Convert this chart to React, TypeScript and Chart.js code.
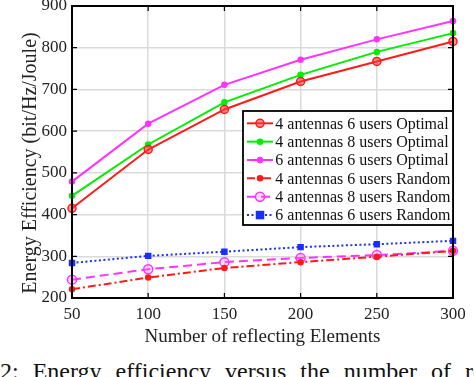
import React, { useEffect, useRef } from "react";
import { Chart, registerables } from "chart.js";

Chart.register(...registerables);

const elements = [50, 100, 150, 200, 250, 300];
const ant4u6Optimal = [415, 556, 652, 719, 767, 815];
const ant4u8Optimal = [445, 568, 669, 735, 790, 835];
const ant6u6Optimal = [479, 618, 711, 771, 820, 864];
const ant4u6Random = [221, 249, 272, 286, 299, 313];
const ant4u8Random = [244, 269, 286, 296, 303, 313];
const ant6u6Random = [284, 301, 311, 322, 329, 337];

const seriesLabels = [
  "4 antennas 6 users Optimal",
  "4 antennas 8 users Optimal",
  "6 antennas 6 users Optimal",
  "4 antennas 6 users Random",
  "4 antennas 8 users Random",
  "6 antennas 6 users Random",
];

const xMin = 50;
const xMax = 300;
const xStep = 50;
const yMin = 200;
const yMax = 900;
const yStep = 100;

const xTitle = "Number of reflecting Elements";
const yTitle = "Energy Efficiency (bit/Hz/Joule)";
const caption = "2:  Energy efficiency versus the number of reflecting elements";

const SERIF = "'Liberation Serif', 'Times New Roman', serif";

function drawMarker(ctx: CanvasRenderingContext2D, style: string, x: number, y: number, r: number, fill: string, stroke: string) {
  ctx.save();
  ctx.setLineDash([]);
  ctx.lineWidth = 1.5;
  ctx.fillStyle = fill;
  ctx.strokeStyle = stroke;
  if (style === "rect") {
    ctx.fillRect(x - r, y - r, 2 * r, 2 * r);
    ctx.strokeRect(x - r, y - r, 2 * r, 2 * r);
  } else {
    ctx.beginPath();
    ctx.arc(x, y, r, 0, Math.PI * 2);
    ctx.fill();
    ctx.stroke();
  }
  ctx.restore();
}

const framePlugin = {
  id: "frame",
  afterDatasetsDraw(chart: any) {
    const { ctx, chartArea } = chart;
    const { left, right, top, bottom } = chartArea;
    ctx.save();
    ctx.strokeStyle = "#000";
    ctx.lineWidth = 1.2;
    const tl = 5;
    chart.scales.x.ticks.forEach((t: any) => {
      const px = chart.scales.x.getPixelForValue(t.value);
      ctx.beginPath();
      ctx.moveTo(px, bottom);
      ctx.lineTo(px, bottom - tl);
      ctx.moveTo(px, top);
      ctx.lineTo(px, top + tl);
      ctx.stroke();
    });
    chart.scales.y.ticks.forEach((t: any) => {
      const py = chart.scales.y.getPixelForValue(t.value);
      ctx.beginPath();
      ctx.moveTo(left, py);
      ctx.lineTo(left + tl, py);
      ctx.moveTo(right, py);
      ctx.lineTo(right - tl, py);
      ctx.stroke();
    });
    ctx.lineWidth = 2;
    ctx.strokeRect(left, top, right - left, bottom - top);
    ctx.restore();
  },
  afterDraw(chart: any) {
    const { ctx, chartArea } = chart;
    // legend
    const w = 210;
    const h = 114;
    const lx = chartArea.right - w;
    const ly = chartArea.top + 105;
    ctx.save();
    ctx.fillStyle = "#fff";
    ctx.fillRect(lx, ly, w, h);
    ctx.lineWidth = 1.8;
    ctx.strokeStyle = "#000";
    ctx.strokeRect(lx, ly, w, h);
    chart.data.datasets.forEach((ds: any, i: number) => {
      const y = ly + 12.3 + i * 18.35;
      ctx.save();
      ctx.setLineDash(ds.borderDash || []);
      ctx.strokeStyle = ds.borderColor;
      ctx.lineWidth = ds.borderWidth;
      ctx.beginPath();
      ctx.moveTo(lx + 4, y);
      ctx.lineTo(lx + 30, y);
      ctx.stroke();
      ctx.restore();
      drawMarker(ctx, ds.pointStyle, lx + 17, y, ds.pointRadius, ds.pointBackgroundColor, ds.pointBorderColor);
      ctx.fillStyle = "#111";
      ctx.font = `16px ${SERIF}`;
      ctx.textBaseline = "middle";
      ctx.textAlign = "left";
      ctx.fillText(ds.label, lx + 32.3, y + 1);
    });
    // y title
    ctx.translate(36, 163);
    ctx.rotate(-Math.PI / 2);
    ctx.font = `20px ${SERIF}`;
    ctx.fillStyle = "#222";
    ctx.textAlign = "center";
    ctx.textBaseline = "alphabetic";
    ctx.fillText(yTitle, 0, 0);
    ctx.restore();
  },
};

export default function App() {
  const canvasRef = useRef<HTMLCanvasElement | null>(null);

  useEffect(() => {
    document.body.style.margin = "0";
    const canvas = canvasRef.current;
    if (!canvas) return;
    const mk = (
      label: string,
      data: number[],
      color: string,
      dash: number[],
      pointStyle: string,
      radius: number,
      bg: string
    ) => ({
      label,
      data: elements.map((x, i) => ({ x, y: data[i] })),
      borderColor: color,
      borderWidth: 2,
      borderDash: dash,
      pointStyle,
      pointRadius: radius,
      pointBackgroundColor: bg,
      pointBorderColor: color,
      pointBorderWidth: 1.5,
      tension: 0,
      clip: false as any,
      fill: false,
    });
    const chart = new Chart(canvas, {
      type: "line",
      data: {
        datasets: [
          mk(seriesLabels[0], ant4u6Optimal, "#ff1a1a", [], "circle", 4, "rgba(255,60,60,0.55)"),
          mk(seriesLabels[1], ant4u8Optimal, "#00ee00", [], "circle", 2.5, "#00ee00"),
          mk(seriesLabels[2], ant6u6Optimal, "#ff33ff", [], "circle", 2.5, "#ff33ff"),
          mk(seriesLabels[3], ant4u6Random, "#ff1a1a", [8, 3, 2, 3], "circle", 2.5, "#ff1a1a"),
          mk(seriesLabels[4], ant4u8Random, "#ff33ff", [9, 5], "circle", 4.5, "rgba(255,120,255,0.25)"),
          mk(seriesLabels[5], ant6u6Random, "#1a2eff", [2, 2.5], "rect", 3.5, "#1a2eff"),
        ] as any,
      },
      options: {
        animation: false,
        responsive: false,
        maintainAspectRatio: false,
        layout: { padding: { top: 6, right: 21, left: 0, bottom: 0 } },
        plugins: {
          legend: { display: false },
          tooltip: { enabled: false },
        },
        scales: {
          x: {
            type: "linear",
            min: xMin,
            max: xMax,
            ticks: {
              stepSize: xStep,
              padding: 6,
              color: "#222",
              font: { family: SERIF, size: 17 },
            },
            grid: { color: "#dadada", lineWidth: 1.5, drawTicks: false },
            border: { display: false },
            title: {
              display: true,
              text: xTitle,
              color: "#222",
              font: { family: SERIF, size: 19 },
              padding: { top: 0, bottom: 2 },
            },
            afterFit: (scale: any) => {
              scale.height = 52;
              scale.paddingLeft = 0;
              scale.paddingRight = 0;
            },
          },
          y: {
            type: "linear",
            min: yMin,
            max: yMax,
            ticks: {
              stepSize: yStep,
              padding: 5,
              color: "#222",
              font: { family: SERIF, size: 17 },
            },
            grid: { color: "#dadada", lineWidth: 1.5, drawTicks: false },
            border: { display: false },
            afterFit: (scale: any) => {
              scale.width = 72;
              scale.paddingTop = 0;
              scale.paddingBottom = 0;
            },
          },
        },
      } as any,
      plugins: [framePlugin],
    });
    return () => chart.destroy();
  }, []);

  return (
    <div style={{ position: "relative", width: 474, height: 377, overflow: "hidden", background: "#fff" }}>
      <canvas ref={canvasRef} width={474} height={350} style={{ position: "absolute", left: 0, top: 0 }} />
      <div
        style={{
          position: "absolute",
          left: 0,
          top: 359,
          fontFamily: SERIF,
          fontSize: 24,
          lineHeight: "1",
          whiteSpace: "nowrap",
          wordSpacing: "8px",
          color: "#111",
        }}
      >
        {caption}
      </div>
    </div>
  );
}
